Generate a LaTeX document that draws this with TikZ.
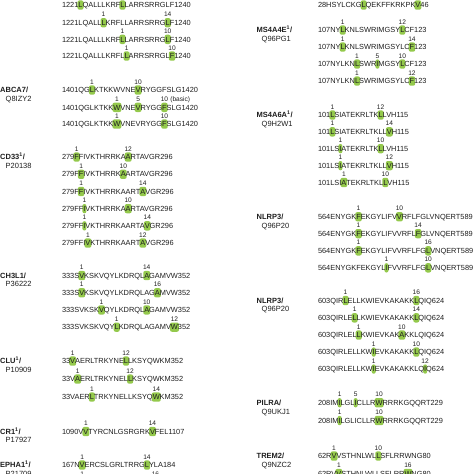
\documentclass[tikz,border=0pt]{standalone}
\usepackage{fontspec}
\setmainfont{Liberation Sans}
\usetikzlibrary{backgrounds}
\definecolor{hitfill}{HTML}{94C94C}
\definecolor{inktext}{HTML}{1E1E1E}
\newcommand{\seqfont}{\fontsize{7.4}{8}\selectfont}
\newcommand{\numfont}{\fontsize{6.6}{7}\selectfont}
\newcommand{\genefont}{\fontsize{7.5}{8}\selectfont}
\tikzset{
  resid/.style={inner sep=0pt, outer sep=0pt, anchor=base west, font=\seqfont, text=inktext},
  hitbox/.style={fill=hitfill, rounded corners=2pt},
  posnum/.style={inner sep=0pt, anchor=base, font=\numfont, text=inktext},
  gene/.style={inner sep=0pt, anchor=base west, font=\genefont\bfseries, text=inktext},
  acc/.style={inner sep=0pt, anchor=base west, font=\genefont, text=inktext}
}
% one peptide row: name, x, baseline y, pieces (text/position; 0 = plain, -1 = marked, no number)
\newcommand{\motif}[4]{%
  \node[resid] (#1-0) at (#2,#3) {};
  \foreach \piece/\hit [count=\i] in {#4} {
    \pgfmathtruncatemacro{\j}{\i-1}
    \node[resid] (#1-\i) at (#1-\j.base east) {\piece};
    \ifnum\hit=0 \else
      \begin{scope}[on background layer]
        \fill[hitbox] ([xshift=-1pt,yshift=-2pt]#1-\i.base west)
          rectangle ([xshift=1pt,yshift=7.3pt]#1-\i.base east);
      \end{scope}
      \ifnum\hit>0
        \node[posnum] (#1-\i-n) at ([yshift=8.6pt]#1-\i.base) {\hit};
      \fi
    \fi
  }%
}
\def\colL{61}
\def\colR{317}

\begin{document}
\begin{tikzpicture}[x=1pt, y=-1pt]
\useasboundingbox (0,0) rectangle (474,474);
\clip (0,0) rectangle (474,474);

%% left column
% top block (labels above the crop)
\motif{la1}{\colL}{7.7}{1221/0, L/-1, QALLLKRF/0, L/-1, LARRSRRGLF1240/0}
\motif{la2}{\colL}{25.4}{1221LQALL/0, L/1, KRFLLARRSRRG/0, L/14, F1240/0}
\motif{la3}{\colL}{42.0}{1221LQALLLKRF/0, L/1, LARRSRRG/0, L/10, F1240/0}
\motif{la4}{\colL}{58.7}{1221LQALLLKRFL/0, L/1, ARRSRRGL/0, F/10, 1240/0}

% ABCA7
\node[gene] (abca7) at (0,92.7) {ABCA7/};
\node[acc] (abca7id) at (5.5,101.4) {Q8IZY2};
\motif{ab1}{\colL}{92.7}{1401QG/0, L/1, KTKKWVNE/0, V/10, RYGGFSLG1420/0}
\motif{ab2}{\colL}{110.0}{1401QGLKTKK/0, W/1, VNE/0, V/5, RYGG/0, F/10, SLG1420/0}
\node[posnum, anchor=base west] (ab2basic) at ([xshift=1.8pt]ab2-6-n.base east) {(basic)};
\motif{ab3}{\colL}{126.7}{1401QGLKTKK/0, W/1, VNEVRYGG/0, F/10, SLG1420/0}

% CD33
\node[gene] (cd33) at (0,159.7) {CD33\textsuperscript{1}/};
\node[acc] (cd33id) at (5.5,168.4) {P20138};
\motif{cd1}{\colL}{159.7}{279/0, F/1, FIVKTHRRKA/0, A/12, RTAVGR296/0}
\motif{cd2}{\colL}{176.9}{279F/0, F/1, IVKTHRRK/0, A/10, ARTAVGR296/0}
\motif{cd3}{\colL}{194.1}{279F/0, F/1, IVKTHRRKAART/0, A/14, VGR296/0}
\motif{cd4}{\colL}{211.3}{279FF/0, I/1, VKTHRRKA/0, A/10, RTAVGR296/0}
\motif{cd5}{\colL}{228.5}{279FF/0, I/1, VKTHRRKAARTA/0, V/14, GR296/0}
\motif{cd6}{\colL}{245.7}{279FFI/0, V/1, KTHRRKAART/0, A/12, VGR296/0}

% CH3L1
\node[gene] (ch3l1) at (0,278.2) {CH3L1/};
\node[acc] (ch3l1id) at (5.5,286.9) {P36222};
\motif{ch1}{\colL}{278.2}{333S/0, V/1, KSKVQYLKDRQL/0, A/14, GAMVW352/0}
\motif{ch2}{\colL}{295.4}{333S/0, V/1, KSKVQYLKDRQLAG/0, A/16, MVW352/0}
\motif{ch3}{\colL}{312.6}{333SVKSK/0, V/1, QYLKDRQL/0, A/10, GAMVW352/0}
\motif{ch4}{\colL}{329.8}{333SVKSKVQY/0, L/1, KDRQLAGAMV/0, W/12, 352/0}

% CLU
\node[gene] (clu) at (0,363.7) {CLU\textsuperscript{1}/};
\node[acc] (cluid) at (5.5,372.4) {P10909};
\motif{cl1}{\colL}{363.7}{33/0, V/1, AERLTRKYNE/0, L/12, LKSYQWKM352/0}
\motif{cl2}{\colL}{381.7}{33V/0, A/1, ERLTRKYNEL/0, L/12, KSYQWKM352/0}
\motif{cl3}{\colL}{399.7}{33VAER/0, L/1, TRKYNELLKSYQ/0, W/14, KM352/0}

% CR1
\node[gene] (cr1) at (0,434.2) {CR1\textsuperscript{1}/};
\node[acc] (cr1id) at (5.5,442.9) {P17927};
\motif{cr1}{\colL}{434.2}{1090V/0, V/1, TYRCNLGSRGRK/0, V/14, FEL1107/0}

% EPHA1
\node[gene] (epha1) at (0,467.7) {EPHA1\textsuperscript{1}/};
\node[acc] (epha1id) at (5.5,476.4) {P21709};
\motif{ep1}{\colL}{467.7}{167N/0, V/1, ERCSLGRLTRRG/0, L/14, YLA184/0}
\motif{ep2}{\colL}{484.9}{167N/0, V/1, ERCSLGRLTRRGLY/0, L/16, A184/0}

%% right column
% top row (labels above the crop)
\motif{ra1}{\colR}{7.7}{28HSYLCKG/0, L/-1, QEKFFKRKPK/0, V/-1, 46/0}

% MS4A4E
\node[gene] (ms4a4e) at (256.5,32.7) {MS4A4E\textsuperscript{1}/};
\node[acc] (ms4a4eid) at (261.5,41.4) {Q96PG1};
\motif{me1}{\colR}{32.7}{107NY/0, L/1, KNLSWRIMGSY/0, L/12, CF123/0}
\motif{me2}{\colR}{49.7}{107NY/0, L/1, KNLSWRIMGSYLC/0, F/14, 123/0}
\motif{me3}{\colR}{66.7}{107NYLKN/0, L/1, SWR/0, I/5, MGSY/0, L/10, CF123/0}
\motif{me4}{\colR}{83.7}{107NYLKN/0, L/1, SWRIMGSYLC/0, F/12, 123/0}

% MS4A6A
\node[gene] (ms4a6a) at (256.5,117.7) {MS4A6A\textsuperscript{1}/};
\node[acc] (ms4a6aid) at (261.5,126.4) {Q9H2W1};
\motif{ma1}{\colR}{117.7}{101/0, L/1, SIATEKRLTK/0, L/12, LVH115/0}
\motif{ma2}{\colR}{134.5}{101/0, L/1, SIATEKRLTKLL/0, V/14, H115/0}
\motif{ma3}{\colR}{151.3}{101LS/0, I/1, ATEKRLTK/0, L/10, LVH115/0}
\motif{ma4}{\colR}{168.3}{101LS/0, I/1, ATEKRLTKLL/0, V/12, H115/0}
\motif{ma5}{\colR}{185.1}{101LSI/0, A/1, TEKRLTKL/0, L/10, VH115/0}

% NLRP3, 564-589
\node[gene] (nlrp3a) at (256.5,219.4) {NLRP3/};
\node[acc] (nlrp3aid) at (261.5,228.1) {Q96P20};
\motif{na1}{\colR}{219.4}{564ENYGK/0, F/1, EKGYLIFV/0, V/10, RFLFGLVNQERT589/0}
\motif{na2}{\colR}{236.3}{564ENYGK/0, F/1, EKGYLIFVVRFL/0, F/14, GLVNQERT589/0}
\motif{na3}{\colR}{253.5}{564ENYGK/0, F/1, EKGYLIFVVRFLFG/0, L/16, VNQERT589/0}
\motif{na4}{\colR}{270.5}{564ENYGKFEKGYL/0, I/1, FVVRFLFG/0, L/10, VNQERT589/0}

% NLRP3, 603-624
\node[gene] (nlrp3b) at (256.5,303.2) {NLRP3/};
\node[acc] (nlrp3bid) at (261.5,311.9) {Q96P20};
\motif{nb1}{\colR}{303.2}{603QIR/0, L/1, ELLKWIEVKAKAKK/0, L/16, QIQ624/0}
\motif{nb2}{\colR}{320.5}{603QIRLE/0, L/1, LKWIEVKAKAKK/0, L/14, QIQ624/0}
\motif{nb3}{\colR}{337.7}{603QIRLEL/0, L/1, KWIEVKAK/0, A/10, KKLQIQ624/0}
\motif{nb4}{\colR}{354.7}{603QIRLELLKW/0, I/1, EVKAKAKK/0, L/10, QIQ624/0}
\motif{nb5}{\colR}{371.7}{603QIRLELLKW/0, I/1, EVKAKAKKLQ/0, I/12, Q624/0}

% PILRA
\node[gene] (pilra) at (256.5,405.4) {PILRA/};
\node[acc] (pilraid) at (261.5,414.1) {Q9UKJ1};
\motif{pi1}{\colR}{405.4}{208IM/0, I/1, LGL/0, I/5, CLLR/0, W/10, RRRKGQQRT229/0}
\motif{pi2}{\colR}{423.2}{208IM/0, I/1, LGLICLLR/0, W/10, RRRKGQQRT229/0}

% TREM2
\node[gene] (trem2) at (256.5,458.7) {TREM2/};
\node[acc] (trem2id) at (261.5,467.4) {Q9NZC2};
\motif{tr1}{\colR}{458.7}{62R/0, V/1, VSTHNLWL/0, L/10, SFLRRWNG80/0}
\motif{tr2}{\colR}{476.2}{62RV/0, V/1, STHNLWLLSFLRR/0, W/16, NG80/0}

\end{tikzpicture}
\end{document}
